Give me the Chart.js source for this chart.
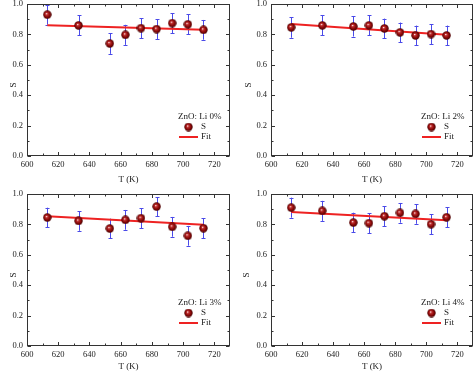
<!DOCTYPE html>
<html>
<head>
<meta charset="utf-8">
<script src="https://cdn.jsdelivr.net/npm/chart.js@4.4.0/dist/chart.umd.min.js"></script>
<style>
  html, body { margin: 0; padding: 0; background: #fff; }
  #wrap { position: relative; width: 474px; height: 374px; overflow: hidden; }
  canvas { position: absolute; }
</style>
</head>
<body>
<div id="wrap">
  <canvas id="c0" width="237" height="187" style="left:0;top:0"></canvas>
  <canvas id="c1" width="237" height="187" style="left:237px;top:0"></canvas>
  <canvas id="c2" width="237" height="187" style="left:0;top:187px"></canvas>
  <canvas id="c3" width="237" height="187" style="left:237px;top:187px"></canvas>
</div>
<script>
// measured temperatures (K)
const temps = [613, 633, 653, 663, 673, 683, 693, 703, 713];

// S values
const sLi0 = [0.930, 0.859, 0.740, 0.797, 0.841, 0.835, 0.874, 0.866, 0.830];
const sLi2 = [0.846, 0.859, 0.852, 0.859, 0.839, 0.813, 0.793, 0.802, 0.793];
const sLi3 = [0.845, 0.823, 0.773, 0.830, 0.841, 0.917, 0.784, 0.725, 0.775];
const sLi4 = [0.910, 0.889, 0.812, 0.808, 0.854, 0.876, 0.869, 0.801, 0.847];

// error bar half-heights
const errLi0 = [0.066, 0.066, 0.068, 0.066, 0.065, 0.065, 0.065, 0.065, 0.065];
const errLi2 = [0.068, 0.066, 0.066, 0.066, 0.065, 0.065, 0.065, 0.065, 0.065];
const errLi3 = [0.065, 0.065, 0.065, 0.065, 0.065, 0.063, 0.065, 0.065, 0.065];
const errLi4 = [0.066, 0.066, 0.065, 0.065, 0.065, 0.065, 0.065, 0.065, 0.065];

// linear fit end points
const fitT = [613, 713];
const fitLi0 = [0.861, 0.830];
const fitLi2 = [0.868, 0.797];
const fitLi3 = [0.854, 0.797];
const fitLi4 = [0.882, 0.828];

const panelLabels = ['ZnO: Li 0%', 'ZnO: Li 2%', 'ZnO: Li 3%', 'ZnO: Li 4%'];

const xTickVals = [600, 620, 640, 660, 680, 700, 720];
const xMinorVals = [610, 630, 650, 670, 690, 710];
const yTickVals = [0.0, 0.2, 0.4, 0.6, 0.8, 1.0];
const yMinorVals = [0.1, 0.3, 0.5, 0.7, 0.9];

const SERIF = "'Liberation Serif', 'Times New Roman', serif";

// dark red ball marker with a highlight
function makeBall() {
  const c = document.createElement('canvas');
  c.width = 9; c.height = 9;
  const g = c.getContext('2d');
  const grad = g.createRadialGradient(3.6, 3.4, 0.2, 4.5, 4.5, 4.5);
  grad.addColorStop(0, '#ffe6e6');
  grad.addColorStop(0.22, '#c03030');
  grad.addColorStop(0.6, '#8a0808');
  grad.addColorStop(1, '#3c0000');
  g.fillStyle = grad;
  g.beginPath();
  g.arc(4.5, 4.5, 4.2, 0, Math.PI * 2);
  g.fill();
  return c;
}
const ball = makeBall();

// error bars under the markers
const errorBars = {
  id: 'errorBars',
  beforeDatasetsDraw(chart, args, opts) {
    const {ctx, chartArea: a, scales: {x, y}} = chart;
    const vals = chart.data.datasets[0].data;
    ctx.save();
    ctx.beginPath();
    ctx.rect(a.left, a.top, a.right - a.left, a.bottom - a.top);
    ctx.clip();
    ctx.strokeStyle = '#4a4ae8';
    ctx.lineWidth = 1;
    vals.forEach((p, i) => {
      const px = Math.round(x.getPixelForValue(p.x)) + 0.5;
      const y1 = y.getPixelForValue(p.y + opts.err[i]);
      const y2 = y.getPixelForValue(p.y - opts.err[i]);
      ctx.beginPath();
      ctx.moveTo(px, y1); ctx.lineTo(px, y2);
      ctx.moveTo(px - 2, Math.round(y1) + 0.5); ctx.lineTo(px + 2, Math.round(y1) + 0.5);
      ctx.moveTo(px - 2, Math.round(y2) + 0.5); ctx.lineTo(px + 2, Math.round(y2) + 0.5);
      ctx.stroke();
    });
    ctx.restore();
  }
};

// box frame, inward ticks, axis titles and legend
const frame = {
  id: 'frame',
  afterDraw(chart, args, opts) {
    const {ctx, chartArea: a, scales: {x, y}} = chart;
    const L = Math.round(a.left) + 0.5, R = Math.round(a.right) - 0.5;
    const T = Math.round(a.top) + 0.5, B = Math.round(a.bottom) - 0.5;
    ctx.save();
    ctx.strokeStyle = '#333';
    ctx.lineWidth = 1;
    ctx.strokeRect(L, T, R - L, B - T);
    ctx.beginPath();
    const tickX = (v, len) => {
      const px = Math.round(x.getPixelForValue(v)) + 0.5;
      ctx.moveTo(px, B); ctx.lineTo(px, B - len);
      ctx.moveTo(px, T); ctx.lineTo(px, T + len);
    };
    const tickY = (v, len) => {
      const py = Math.round(y.getPixelForValue(v)) + 0.5;
      ctx.moveTo(L, py); ctx.lineTo(L + len, py);
      ctx.moveTo(R, py); ctx.lineTo(R - len, py);
    };
    xTickVals.forEach(v => tickX(v, 3.5));
    xMinorVals.forEach(v => tickX(v, 2));
    yTickVals.forEach(v => tickY(v, 3.5));
    yMinorVals.forEach(v => tickY(v, 2));
    ctx.stroke();

    // axis titles
    ctx.fillStyle = '#222';
    ctx.font = '9px ' + SERIF;
    ctx.textAlign = 'center';
    ctx.textBaseline = 'middle';
    ctx.fillText('T (K)', (a.left + a.right) / 2, 179.5);
    ctx.save();
    ctx.translate(opts.sX, (a.top + a.bottom) / 2 + 5);
    ctx.rotate(-Math.PI / 2);
    ctx.fillText('S', 0, 0);
    ctx.restore();

    // legend
    const lx = a.right - 52, ly = a.bottom - opts.legDy;
    ctx.textAlign = 'left';
    ctx.fillText(opts.label, lx, ly);
    ctx.drawImage(ball, lx + 6, ly + 10 - 4.5);
    ctx.fillText('S', lx + 23, ly + 10);
    ctx.strokeStyle = '#ee2222';
    ctx.lineWidth = 2;
    ctx.beginPath();
    ctx.moveTo(lx + 1, ly + 20); ctx.lineTo(lx + 20, ly + 20);
    ctx.stroke();
    ctx.fillText('Fit', lx + 23, ly + 20);
    ctx.restore();
  }
};

const panels = [
  {id: 'c0', s: sLi0, err: errLi0, fit: fitLi0, yW: 27, padTop: 4, padRight: 7, sX: 14, legDy: 39},
  {id: 'c1', s: sLi2, err: errLi2, fit: fitLi2, yW: 34, padTop: 4, padRight: 1, sX: 12, legDy: 39},
  {id: 'c2', s: sLi3, err: errLi3, fit: fitLi3, yW: 27, padTop: 7, padRight: 7, sX: 14, legDy: 43},
  {id: 'c3', s: sLi4, err: errLi4, fit: fitLi4, yW: 34, padTop: 7, padRight: 1, sX: 10, legDy: 43}
];

panels.forEach((p, k) => {
  const xH = 187 - p.padTop - 152;
  new Chart(document.getElementById(p.id), {
    type: 'scatter',
    data: {
      datasets: [
        {
          label: 'S',
          data: temps.map((t, i) => ({x: t, y: p.s[i]})),
          pointStyle: ball,
          pointRadius: 4,
          order: 0
        },
        {
          label: 'Fit',
          data: fitT.map((t, i) => ({x: t, y: p.fit[i]})),
          showLine: true,
          borderColor: '#ee2222',
          borderWidth: 2,
          pointRadius: 0,
          order: 1
        }
      ]
    },
    options: {
      responsive: false,
      animation: false,
      devicePixelRatio: 1,
      layout: {autoPadding: false, padding: {left: 0, top: p.padTop, right: p.padRight, bottom: 0}},
      plugins: {
        legend: {display: false},
        tooltip: {enabled: false},
        errorBars: {err: p.err},
        frame: {label: panelLabels[k], sX: p.sX, legDy: p.legDy}
      },
      scales: {
        x: {
          type: 'linear', min: 600, max: 730,
          grid: {display: false, drawTicks: false},
          border: {display: false},
          afterBuildTicks: s => { s.ticks = xTickVals.map(v => ({value: v})); },
          afterFit: s => { s.height = xH; s.paddingLeft = 0; s.paddingRight = 0; },
          ticks: {padding: 4, color: '#222', font: {family: SERIF, size: 8.5}, maxRotation: 0, autoSkip: false}
        },
        y: {
          min: 0, max: 1,
          grid: {display: false, drawTicks: false},
          border: {display: false},
          afterBuildTicks: s => { s.ticks = yTickVals.map(v => ({value: v})); },
          afterFit: s => { s.width = p.yW; s.paddingTop = 0; s.paddingBottom = 0; },
          ticks: {padding: 4, color: '#222', font: {family: SERIF, size: 8.5},
                  callback: v => v.toFixed(1)}
        }
      }
    },
    plugins: [errorBars, frame]
  });
});
</script>
</body>
</html>
